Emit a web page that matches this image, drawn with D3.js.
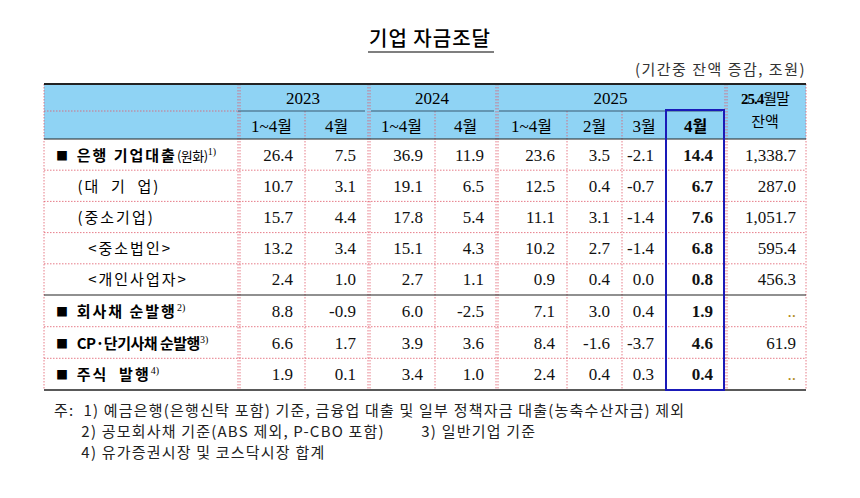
<!DOCTYPE html><html><head><meta charset="utf-8"><script src="https://cdn.jsdelivr.net/npm/d3@7"></script>
<style>body{margin:0;background:#fff}</style></head><body><svg id="c" width="860" height="498"></svg>
<script>
const rowLabels=[["■ ","은행 기업대출","(원화)","1)"],["    (대  기  업)","","",""],["    (중소기업)","","",""],["      <중소법인>","","",""],["      <개인사업자>","","",""],["■ ","회사채 순발행","","2)"],["■ ","CP·단기사채 순발행","","3)"],["■ ","주식  발행","","4)"]];
const years=["2023","2024","2025"];
const subHeads=["1~4월","4월","1~4월","4월","1~4월","2월","3월","4월"];
const values=[
["26.4","7.5","36.9","11.9","23.6","3.5","-2.1","14.4","1,338.7"],
["10.7","3.1","19.1","6.5","12.5","0.4","-0.7","6.7","287.0"],
["15.7","4.4","17.8","5.4","11.1","3.1","-1.4","7.6","1,051.7"],
["13.2","3.4","15.1","4.3","10.2","2.7","-1.4","6.8","595.4"],
["2.4","1.0","2.7","1.1","0.9","0.4","0.0","0.8","456.3"],
["8.8","-0.9","6.0","-2.5","7.1","3.0","0.4","1.9",".."],
["6.6","1.7","3.9","3.6","8.4","-1.6","-3.7","4.6","61.9"],
["1.9","0.1","3.4","1.0","2.4","0.4","0.3","0.4",".."]];
const notes=["주:  1) 예금은행(은행신탁 포함) 기준, 금융업 대출 및 일부 정책자금 대출(농축수산자금) 제외","      2) 공모회사채 기준(ABS 제외, P-CBO 포함)        3) 일반기업 기준","      4) 유가증권시장 및 코스닥시장 합계"];
const svg=d3.select("#c");
const serif="'Liberation Serif','DejaVu Serif',serif", kr="'Noto Sans CJK KR',sans-serif";
const colEdges=[44,238,305,368,435,496,567,622,666,725,806];
const rowEdges=[139,170.2,201.4,232.6,263.8,295,326.7,358.3,390];
const L=44,R=806,T=84;
svg.append("text").attr("x",430).attr("y",46).attr("text-anchor","middle").attr("font-family",kr).attr("font-size",20).attr("font-weight",500).attr("letter-spacing",1).text("기업 자금조달");
svg.append("line").attr("x1",368).attr("x2",494).attr("y1",52).attr("y2",52).attr("stroke","#000").attr("stroke-width",1.2);
svg.append("text").attr("x",806).attr("y",75).attr("text-anchor","end").attr("font-family",kr).attr("font-size",15).attr("letter-spacing",1.5).attr("fill","#333").text("(기간중 잔액 증감, 조원)");
svg.append("rect").attr("x",L).attr("y",T).attr("width",R-L).attr("height",139-T).attr("fill","#8fd3f4");
const dash=(x1,y1,x2,y2)=>svg.append("line").attr("x1",x1).attr("y1",y1).attr("x2",x2).attr("y2",y2).attr("stroke","#e05a6a").attr("stroke-width",0.8).attr("stroke-dasharray","1.5,1.5");
colEdges.forEach((x,i)=>{ if(i==0||i==colEdges.length-1){dash(x,T,x,390);return;}
 const full=[1,3,5,9].includes(i); dash(x,full?T:111,x,390); if(full) dash(x+2,T,x+2,390);});
dash(L,111,238,111);
rowEdges.slice(1,-1).forEach((y,i)=>{ if(i!=4) dash(L,y,R,y);});
[[T,1.8],[139,1],[295,1.2],[390,1.5]].forEach(([y,w])=>svg.append("line").attr("x1",L).attr("x2",R).attr("y1",y).attr("y2",y).attr("stroke","#222").attr("stroke-width",w));
[[238,365],[371,494],[499,722]].forEach(([a,b])=>svg.append("line").attr("x1",a).attr("x2",b).attr("y1",111).attr("y2",111).attr("stroke","#3a5a70").attr("stroke-width",1.2));
const yspans=[[238,368],[368,496],[496,725]];
years.forEach((y,i)=>svg.append("text").attr("x",(yspans[i][0]+yspans[i][1])/2).attr("y",104).attr("text-anchor","middle").attr("font-family",serif).attr("font-size",17).text(y));
subHeads.forEach((s,i)=>{const t=svg.append("text").attr("x",(colEdges[i+1]+colEdges[i+2])/2).attr("y",132).attr("text-anchor","middle").attr("font-size",17);
 const m=s.match(/^([\d~]+)(월)$/); t.append("tspan").attr("font-family",serif).attr("font-weight",i==7?"bold":null).text(m[1]); t.append("tspan").attr("font-family",kr).attr("font-size",16).attr("font-weight",i==7?"bold":null).text(m[2]);});
const lt=svg.append("text").attr("x",765).attr("y",104).attr("text-anchor","middle").attr("font-size",15).attr("letter-spacing",-1);
lt.append("tspan").attr("font-family",serif).attr("font-weight","bold").text("25.4");lt.append("tspan").attr("font-family",kr).text("월말");
svg.append("text").attr("x",765).attr("y",127).attr("text-anchor","middle").attr("font-family",kr).attr("font-size",15).text("잔액");
rowLabels.forEach((r,i)=>{const y=(rowEdges[i]+rowEdges[i+1])/2+6;
 const t=svg.append("text").attr("x",56).attr("y",y).attr("font-family",kr).attr("font-size",15).attr("xml:space","preserve").attr("letter-spacing",r[1]?0:2);
 t.append("tspan").attr("font-size",r[0].startsWith("■")?12:15).text(r[0]);
 if(r[1]) t.append("tspan").attr("font-weight","bold").attr("dx",6).attr("letter-spacing",i==6?-0.5:2).text(r[1]);
 if(r[2]) t.append("tspan").attr("font-size",13).attr("letter-spacing",-0.5).text(r[2]);
 if(r[3]) t.append("tspan").attr("font-family",serif).attr("font-size",10).attr("dy",-6).text(r[3]);
 values[i].forEach((v,j)=>{const right=colEdges[j+2]-(j==8?10:12);
  svg.append("text").attr("x",right).attr("y",y).attr("text-anchor","end").attr("font-family",serif).attr("font-size",17).attr("font-weight",j==7?"bold":null).attr("fill",v==".."?"#b08a20":"#111").text(v);});
});
svg.append("rect").attr("x",666).attr("y",110).attr("width",58).attr("height",280).attr("fill","none").attr("stroke","#1a1ab8").attr("stroke-width",2);
notes.forEach((n,i)=>svg.append("text").attr("x",54).attr("y",416+i*21).attr("font-family",kr).attr("font-size",15).attr("letter-spacing",1.2).attr("fill","#222").attr("xml:space","preserve").text(n));
</script></body></html>
